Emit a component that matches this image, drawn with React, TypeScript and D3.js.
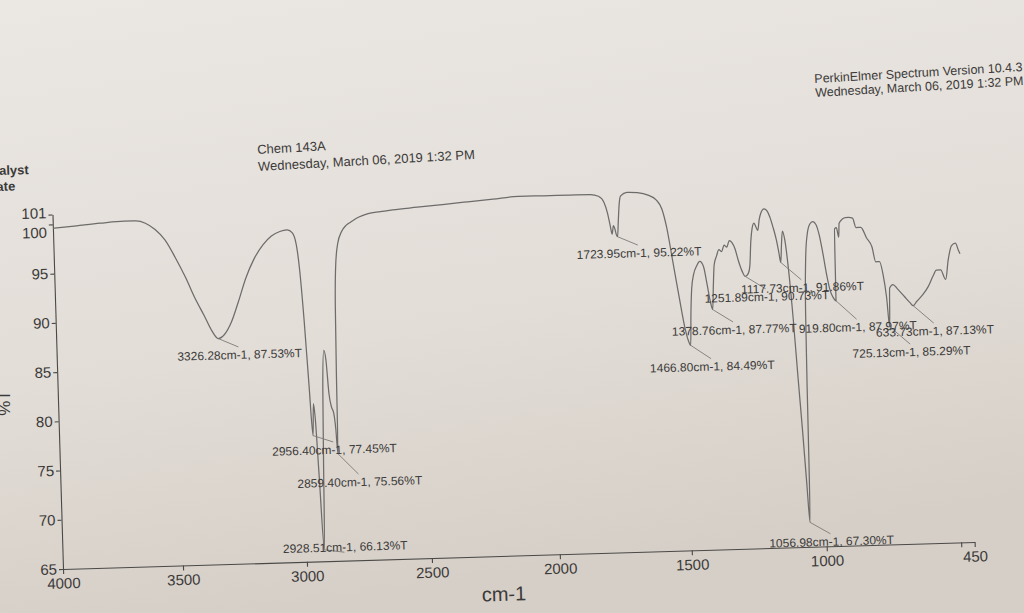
import React, { useEffect, useRef } from 'react';
import * as d3 from 'd3';

// IR spectrum (cm-1 / %T)
const wavenumbers = [
  4000, 3900, 3800, 3700, 3650, 3610, 3570, 3530, 3490, 3450, 3415, 3380, 3350, 3326.28, 3300, 3270,
  3240, 3205, 3170, 3130, 3095, 3060, 3030, 3010, 2995, 2985, 2975, 2965, 2956.4, 2950, 2945, 2938,
  2928.51, 2918, 2910, 2900, 2893, 2886, 2878, 2870, 2864, 2859.4, 2853, 2847, 2840, 2828, 2810, 2790,
  2770, 2740, 2700, 2650, 2600, 2500, 2400, 2300, 2200, 2100, 2000, 1900, 1820, 1790, 1770, 1758,
  1750, 1744, 1738, 1733, 1728, 1723.95, 1718, 1712, 1705, 1680, 1640, 1600, 1570, 1550, 1535, 1518,
  1500, 1485, 1475, 1466.8, 1460, 1453, 1443, 1430, 1418, 1405, 1395, 1385, 1378.76, 1372, 1365, 1355,
  1345, 1335, 1325, 1315, 1305, 1295, 1285, 1275, 1262, 1251.89, 1240, 1233, 1225, 1218, 1210, 1203,
  1197, 1190, 1183, 1170, 1160, 1150, 1140, 1130, 1123, 1117.73, 1112, 1106, 1099, 1090, 1082, 1075,
  1068, 1062, 1056.98, 1050, 1043, 1035, 1025, 1015, 1003, 992, 980, 970, 960, 950, 940, 930,
  919.8, 916, 912, 905, 898, 894, 880, 870, 858, 843, 832, 814, 795, 776, 765, 751,
  740, 731, 725.13, 718, 705, 690, 664, 644, 633.73, 620, 596, 575, 554, 541, 525, 508,
  495, 480, 465, 455, 450,
];
const transmittance = [
  99.6, 99.7, 99.8, 99.85, 99.8, 99.5, 98.8, 97.7, 95.9, 93.8, 91.7, 89.9, 88.3, 87.53, 87.9, 89.1,
  91.0, 93.4, 95.2, 96.6, 97.4, 97.8, 97.9, 97.6, 96.4, 93.8, 89.0, 82.5, 77.45, 80.6, 79.2, 73.5,
  66.13, 75.0, 82.0, 85.8, 84.8, 81.5, 80.2, 79.6, 78.0, 75.56, 83.5, 90.0, 93.8, 96.2, 97.4, 98.0,
  98.3, 98.7, 99.0, 99.1, 99.2, 99.3, 99.4, 99.5, 99.6, 99.7, 99.6, 99.5, 99.4, 99.2, 98.6, 97.5,
  96.3, 95.5, 96.3, 96.0, 95.4, 95.22, 96.8, 98.3, 99.1, 99.4, 99.3, 99.0, 98.5, 97.6, 95.8, 92.5,
  89.0, 86.2, 85.0, 84.49, 87.5, 89.8, 91.2, 92.0, 92.4, 91.9, 90.2, 88.4, 87.77, 90.0, 92.0, 92.8,
  93.4, 93.2, 93.8, 93.6, 94.2, 94.0, 93.4, 92.3, 91.2, 90.73, 91.0, 91.7, 94.0, 95.2, 95.7, 95.3,
  95.0, 96.0, 96.6, 97.0, 96.8, 96.2, 95.2, 94.0, 92.8, 91.86, 93.5, 94.8, 94.0, 91.0, 86.5, 81.0,
  76.0, 71.0, 67.3, 73.0, 80.0, 87.0, 92.0, 94.3, 95.3, 95.5, 95.2, 94.2, 92.5, 90.5, 89.0, 88.3,
  87.97, 91.6, 94.7, 94.8, 93.9, 95.2, 95.6, 95.7, 95.7, 95.6, 94.7, 94.7, 93.7, 92.8, 91.4, 91.4,
  90.2, 88.0, 85.29, 88.9, 89.2, 88.8, 88.0, 87.4, 87.13, 87.5, 88.1, 88.8, 89.8, 90.3, 90.3, 89.4,
  91.2, 92.5, 92.7, 92.0, 91.7,
];

// labelled peaks
const peakWavenumbers = [3326.28, 2956.4, 2928.51, 2859.4, 1723.95, 1466.8, 1378.76, 1251.89, 1117.73, 1056.98, 919.8, 725.13, 633.73];
const peakTransmittance = [87.53, 77.45, 66.13, 75.56, 95.22, 84.49, 87.77, 90.73, 91.86, 67.3, 87.97, 85.29, 87.13];
// how far below its peak each label sits
const peakLabelDrop = [21, 19, 2, 33, 21, 26, 25, 25, 30, 24, 31, 30, 30];

const xTicks = [4000, 3500, 3000, 2500, 2000, 1500, 1000, 500, 450];
const xTickLabels = ['4000', '3500', '3000', '2500', '2000', '1500', '1000', '', '450'];
const yTicks = [65, 70, 75, 80, 85, 90, 95, 100, 101];

const W = 1024;
const H = 613;
const FONT = "'Liberation Sans', Arial, sans-serif";
const INK = '#3b3a39';

const App = () => {
  const svgRef = useRef<SVGSVGElement | null>(null);

  useEffect(() => {
    if (!svgRef.current) return;
    const svg = d3.select(svgRef.current);
    svg.selectAll('*').remove();

    // paper
    const grad = svg.append('defs').append('linearGradient')
      .attr('id', 'paper').attr('x1', 0).attr('y1', 0).attr('x2', 0.25).attr('y2', 1);
    grad.append('stop').attr('offset', '0%').attr('stop-color', '#ebe7e3');
    grad.append('stop').attr('offset', '60%').attr('stop-color', '#e2ddd7');
    grad.append('stop').attr('offset', '100%').attr('stop-color', '#d6cfc7');
    svg.append('rect').attr('width', W).attr('height', H).attr('fill', 'url(#paper)');

    // header texts (page is photographed at an angle)
    const h1 = svg.append('g').attr('transform', 'rotate(-3.2,258,165)')
      .attr('font-family', FONT).attr('font-size', 13).attr('fill', INK);
    h1.append('text').attr('x', 258).attr('y', 154).text('Chem 143A');
    h1.append('text').attr('x', 258).attr('y', 171).text('Wednesday, March 06, 2019 1:32 PM');

    const h2 = svg.append('g').attr('transform', 'rotate(-3.3,815,90)')
      .attr('font-family', FONT).attr('font-size', 12.5).attr('fill', INK);
    h2.append('text').attr('x', 815).attr('y', 83).text('PerkinElmer Spectrum Version 10.4.3');
    h2.append('text').attr('x', 815).attr('y', 97).text('Wednesday, March 06, 2019 1:32 PM');

    const h3 = svg.append('g').attr('transform', 'rotate(-2,0,180)')
      .attr('font-family', FONT).attr('font-size', 13).attr('font-weight', 'bold').attr('fill', INK)
      .attr('text-anchor', 'end');
    h3.append('text').attr('x', 29).attr('y', 175).text('Analyst');
    h3.append('text').attr('x', 15).attr('y', 191).text('Date');

    // chart frame, tilted like the photo
    const g = svg.append('g').attr('transform', 'translate(63,569) rotate(-1.7)');

    const x = d3.scaleLinear()
      .domain([4000, 3500, 3000, 2500, 2000, 1500, 1000, 450])
      .range([0, 120, 244, 369, 497, 629, 764, 912]);
    const y = d3.scaleLinear().domain([65, 101]).range([0, -354.6]);
    // the right half of the sheet was nearer the camera: heights grow and lean to the right
    const stretch = d3.scaleLinear().domain([0, 912]).range([1, 1.097]);
    const lean = d3.scaleLinear().domain([0, 600, 912]).range([0, 0.019, 0.021]);
    const py = (w: number, t: number) => y(t) * stretch(x(w));
    const px = (w: number, t: number) => x(w) + py(w, t) * lean(x(w));

    const yAxis = g.append('g')
      .call(d3.axisLeft(y).tickValues(yTicks).tickSize(4).tickSizeOuter(0).tickFormat(d3.format('d')));
    const xAxis = g.append('g')
      .call(d3.axisBottom(x).tickValues(xTicks).tickSize(5).tickSizeOuter(0)
        .tickFormat((d, i) => xTickLabels[i]));

    [yAxis, xAxis].forEach((a) => {
      a.select('.domain').attr('stroke', '#4a4947').attr('stroke-width', 1.1);
      a.selectAll('.tick line').attr('stroke', '#4a4947').attr('stroke-width', 1.1);
      a.selectAll('.tick text').attr('font-family', FONT).attr('font-size', 15).attr('fill', INK);
    });
    yAxis.selectAll<SVGTextElement, number>('.tick text')
      .attr('x', -6)
      .attr('dy', (d) => (d === 100 ? '0.85em' : d === 101 ? '0.2em' : '0.32em'));
    xAxis.selectAll('.tick text').attr('y', 9);

    g.append('text').attr('x', 440).attr('y', 45).attr('text-anchor', 'middle')
      .attr('font-family', FONT).attr('font-size', 20).attr('fill', INK).text('cm-1');

    // axis title, mostly cropped off the left edge
    svg.append('text').attr('transform', 'translate(10,403) rotate(-90)')
      .attr('text-anchor', 'middle').attr('font-family', FONT).attr('font-size', 17).attr('fill', INK)
      .text('%T');

    // spectrum
    const pts: [number, number][] = wavenumbers.map((w, i) => [w, transmittance[i]]);
    g.append('path')
      .datum(pts)
      .attr('fill', 'none')
      .attr('stroke', '#6d6c6b')
      .attr('stroke-width', 1.25)
      .attr('stroke-linejoin', 'round')
      .attr('d', d3.line<[number, number]>().x((d) => px(d[0], d[1])).y((d) => py(d[0], d[1])).curve(d3.curveMonotoneX));

    // peak labels with leader lines
    const labels = g.append('g').attr('font-family', FONT).attr('font-size', 12).attr('fill', INK);
    peakWavenumbers.forEach((w, i) => {
      const t = peakTransmittance[i];
      const lx = px(w, t);
      const ly = py(w, t);
      const drop = peakLabelDrop[i];
      labels.append('line')
        .attr('x1', lx).attr('y1', ly)
        .attr('x2', lx + 20).attr('y2', ly + Math.max(3, drop - 12))
        .attr('stroke', '#7d7b79').attr('stroke-width', 0.9);
      labels.append('text')
        .attr('x', lx + 21).attr('y', ly + drop).attr('text-anchor', 'middle')
        .text(`${w.toFixed(2)}cm-1, ${t.toFixed(2)}%T`);
    });
  }, []);

  return <svg ref={svgRef} width={W} height={H} style={{ position: 'absolute', left: 0, top: 0, display: 'block' }} />;
};

export default App;
